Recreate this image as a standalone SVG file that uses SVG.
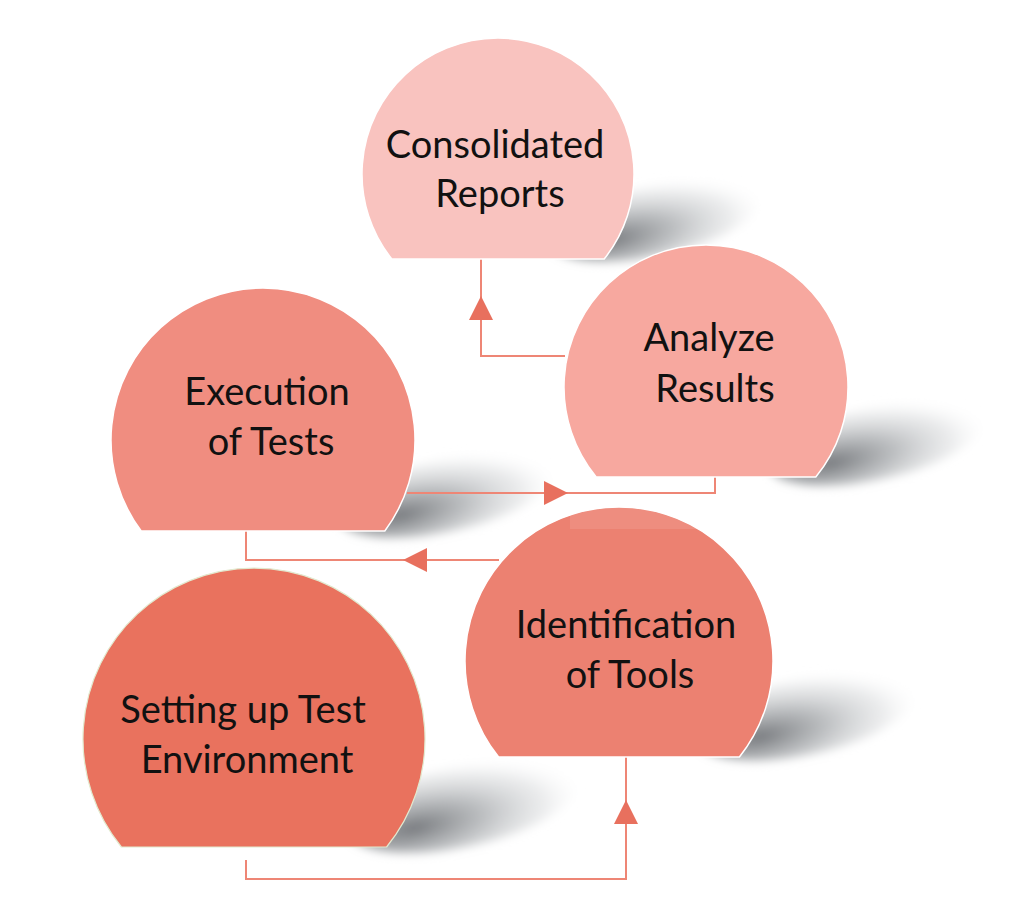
<svg xmlns="http://www.w3.org/2000/svg" width="1024" height="910" viewBox="0 0 1024 910">
  <defs>
    <style>
      .lbl { font-family: Lato, "Liberation Sans", sans-serif; font-size: 38px; fill: #111; text-anchor: middle; }
      .node { stroke: #ffffff; stroke-width: 1.5; }
      .conn { fill: none; stroke: #EE8675; stroke-width: 2; }
      .arrow { fill: #E8705E; }
      .shadow { fill: url(#shGrad); filter: url(#blur); }
    </style>
    <radialGradient id="shGrad" cx="0.28" cy="0.64" r="0.75">
      <stop offset="0" stop-color="#6f7276" stop-opacity="0.95"/>
      <stop offset="0.4" stop-color="#a6a9ac" stop-opacity="0.75"/>
      <stop offset="0.75" stop-color="#d3d5d7" stop-opacity="0.45"/>
      <stop offset="1" stop-color="#ffffff" stop-opacity="0"/>
    </radialGradient>
    <filter id="blur" x="-20%" y="-50%" width="140%" height="200%">
      <feGaussianBlur stdDeviation="5"/>
    </filter>
    <path id="arrowUp" d="M0,0 L12,24 L-12,24 Z"/>
    <path id="arrowLeft" d="M0,0 L24,-12 L24,12 Z"/>
    <path id="arrowRight" d="M0,0 L-24,-12 L-24,12 Z"/>
    <clipPath id="clipIdent">
      <path d="M498.6,757 A154,154 0 1 1 739.4,757 Z"/>
    </clipPath>
  </defs>

  <rect width="1024" height="910" fill="#ffffff"/>

  <g id="shadows">
    <ellipse class="shadow" cx="655" cy="220" rx="108" ry="36" transform="rotate(-12 655 220)"/>
    <ellipse class="shadow" cx="875" cy="443" rx="110" ry="37" transform="rotate(-12 875 443)"/>
    <ellipse class="shadow" cx="445" cy="495" rx="110" ry="37" transform="rotate(-12 445 495)"/>
    <ellipse class="shadow" cx="805" cy="716" rx="112" ry="39" transform="rotate(-12 805 716)"/>
    <ellipse class="shadow" cx="462" cy="806" rx="118" ry="41" transform="rotate(-12 462 806)"/>
  </g>

  <g id="connectors">
    <polyline class="conn" points="246,860 246,879 626,879 626,757"/>
    <use href="#arrowUp" class="arrow" x="626" y="800"/>
    <polyline class="conn" points="499,560 246,560 246,531"/>
    <use href="#arrowLeft" class="arrow" x="403" y="560"/>
    <polyline class="conn" points="407,493 715,493 715,477"/>
    <use href="#arrowRight" class="arrow" x="568" y="493"/>
    <polyline class="conn" points="565,356 481,356 481,259"/>
    <use href="#arrowUp" class="arrow" x="481" y="296"/>
  </g>

  <g id="node-consolidated">
    <path class="node" fill="#F9C3BF" d="M391.8,259 A136,136 0 1 1 604.2,259 Z"/>
    <text class="lbl" x="495" y="158">Consolidated</text>
    <text class="lbl" x="500" y="207">Reports</text>
  </g>

  <g id="node-analyze">
    <path class="node" fill="#F7A89F" d="M596.2,477 A142,142 0 1 1 815.8,477 Z"/>
    <text class="lbl" x="709" y="351">Analyze</text>
    <text class="lbl" x="715" y="402">Results</text>
  </g>

  <g id="node-execution">
    <path class="node" fill="#F08D80" d="M141.2,531 A152,152 0 1 1 384.8,531 Z"/>
    <text class="lbl" x="267" y="405">Execution</text>
    <text class="lbl" x="271" y="455">of Tests</text>
  </g>

  <g id="node-identification">
    <path class="node" fill="#EC8171" d="M498.6,757 A154,154 0 1 1 739.4,757 Z"/>
    <rect x="570" y="500" width="180" height="29" fill="#ffffff" opacity="0.1" clip-path="url(#clipIdent)"/>
    <text class="lbl" x="626" y="638">Identification</text>
    <text class="lbl" x="630" y="688">of Tools</text>
  </g>

  <g id="node-setup">
    <path fill="#E9725E" stroke="#e2e9cf" stroke-width="1.2" d="M121.4,847 A171,171 0 1 1 386.6,847 Z"/>
    <text class="lbl" x="243" y="723">Setting up Test</text>
    <text class="lbl" x="247" y="773">Environment</text>
  </g>
</svg>
